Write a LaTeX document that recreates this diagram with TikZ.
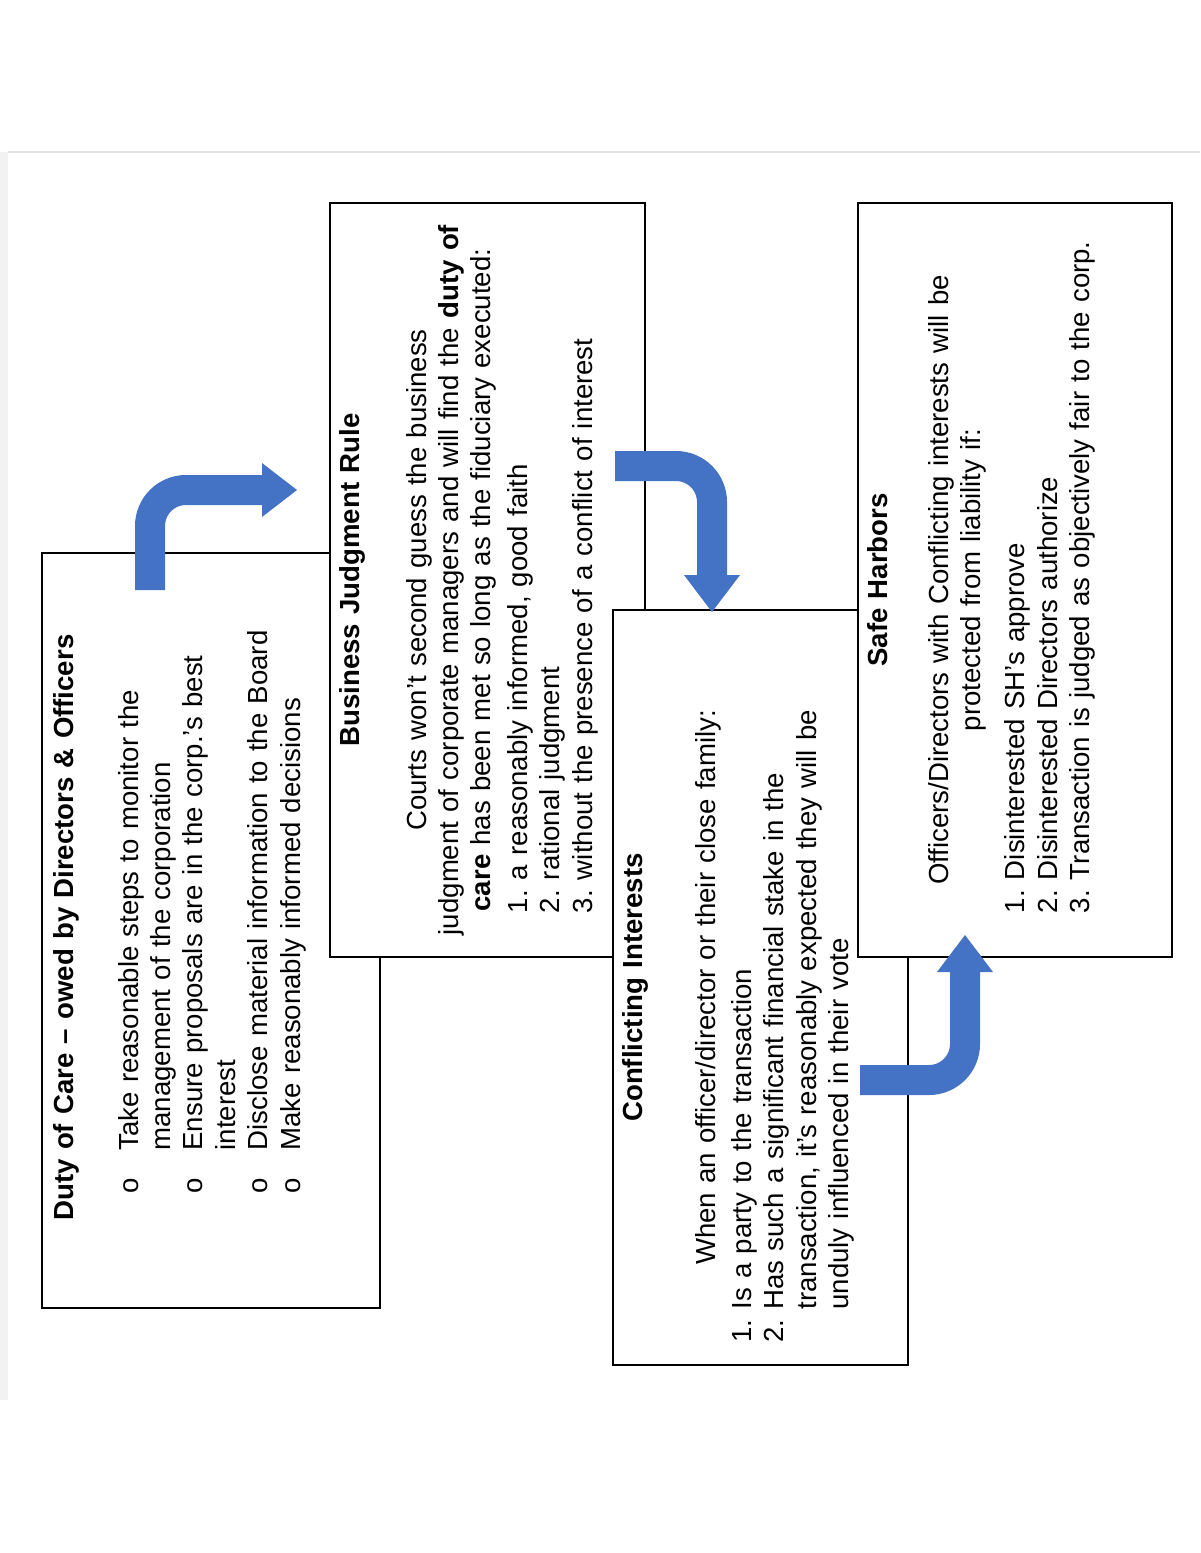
\documentclass[tikz,border=0pt]{standalone}
\usepackage{fontspec}
\setmainfont{Liberation Sans}
\usepackage{enumitem}
\usetikzlibrary{positioning}
\definecolor{arrowblue}{HTML}{4472C4}
\begin{document}
\begin{tikzpicture}[x=0.5pt,y=-0.5pt,
        panel/.style 2 args={draw, line width=0.8pt, fill=white, inner sep=0pt, minimum width=#1, minimum height=#2},
        blurb/.style={rotate=90, font=\fontsize{13.8}{16.2}\selectfont, inner sep=0pt},
        flowarrow/.style={draw=arrowblue, line width=15pt, rounded corners=18pt}
    ]
    \useasboundingbox (0,0) rectangle (1200,1553);
    \draw[gray!25, line width=1pt] (8,152) -- (1200,152);
    \fill[gray!10] (0,152) rectangle (8,1400);

    % Duty of care
    \node[panel={169pt}{377.5pt}] (care) at (211,930.5) {};
    \node[blurb, anchor=north west, text width=355pt] (caretext) at ([xshift=6pt,yshift=44pt]care.south west) {%
        \textbf{Duty of Care -- owed by Directors \& Officers}
        \begin{itemize}[label=o, leftmargin=35pt, labelsep=14pt, itemsep=0pt, parsep=0pt, topsep=16pt]
            \item Take reasonable steps to monitor the\\management of the corporation
            \item Ensure proposals are in the corp.'s best\\interest
            \item Disclose material information to the Board
            \item Make reasonably informed decisions
        \end{itemize}};

    \coordinate (a1s) at (150,590);
    \coordinate (a1t) at (297,490);
    \draw[flowarrow] (a1s) |- ([xshift=-16pt]a1t);
    \fill[arrowblue] (a1t) -- ++(-35,-27) -- ++(0,54) -- cycle;

    % Business judgment rule
    \node[panel={157.5pt}{377pt}] (bjr) at (487.5,580) {};
    \node[blurb, anchor=north, text width=370pt, align=center] (bjrtext) at ([xshift=5pt]bjr.west) {%
        \textbf{Business Judgment Rule}\\[17pt]
        Courts won't second guess the business\\
        judgment of corporate managers and will find the \textbf{duty of}\\
        \textbf{care} has been met so long as the fiduciary executed:\par
        {\raggedright
        \begin{enumerate}[leftmargin=35pt, itemsep=0pt, parsep=0pt, topsep=0pt]
            \item a reasonably informed, good faith
            \item rational judgment
            \item without the presence of a conflict of interest
        \end{enumerate}}};

    \coordinate (a2s) at (615,466);
    \coordinate (a2t) at (712,612);
    \draw[flowarrow] (a2s) -| ([yshift=18pt]a2t);

    % Conflicting interests
    \node[panel={147.5pt}{377.5pt}] (conflict) at (760.5,987.5) {};
    \fill[arrowblue] (a2t) -- ++(-28,-37) -- ++(56,0) -- cycle;
    \node[blurb, anchor=north, text width=370pt, align=center] (conflicttext) at ([xshift=5pt]conflict.west) {%
        \textbf{Conflicting Interests}\\[20pt]
        When an officer/director or their close family:\par
        {\raggedright
        \begin{enumerate}[leftmargin=24pt, itemsep=0pt, parsep=0pt, topsep=0pt]
            \item Is a party to the transaction
            \item Has such a significant financial stake in the\\
            transaction, it's reasonably expected they will be\\
            unduly influenced in their vote
        \end{enumerate}}};

    % Safe harbors
    \node[panel={157pt}{377pt}] (harbor) at (1015,580) {};
    \node[blurb, anchor=north, text width=370pt, align=center] (harbortext) at ([xshift=5pt]harbor.west) {%
        \textbf{Safe Harbors}\\[14pt]
        Officers/Directors with Conflicting interests will be\\
        protected from liability if:\par
        {\raggedright
        \begin{enumerate}[leftmargin=35pt, itemsep=0pt, parsep=0pt, topsep=4pt]
            \item Disinterested SH's approve
            \item Disinterested Directors authorize
            \item Transaction is judged as objectively fair to the corp.
        \end{enumerate}}};

    \coordinate (a3s) at (860,1080);
    \coordinate (a3t) at (965,935);
    \draw[flowarrow] (a3s) -| ([yshift=-18pt]a3t);
    \fill[arrowblue] (a3t) -- ++(-28,37) -- ++(56,0) -- cycle;
\end{tikzpicture}
\end{document}
